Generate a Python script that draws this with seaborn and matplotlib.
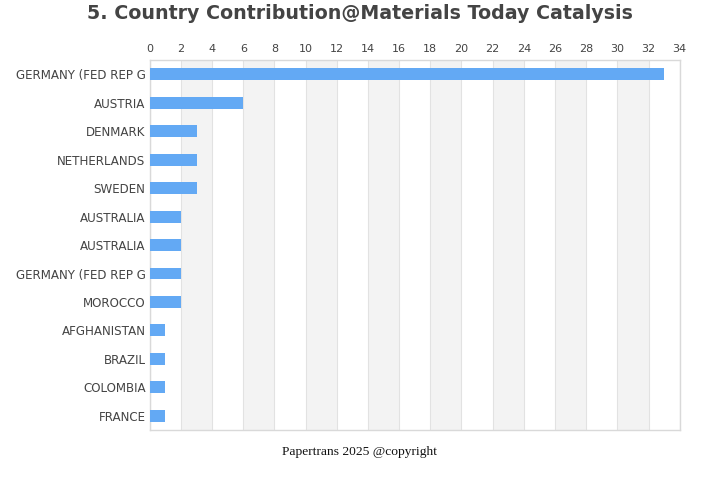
import matplotlib
matplotlib.use("Agg")
import matplotlib.pyplot as plt
import matplotlib.ticker as ticker
import numpy as np
import pandas as pd
import seaborn as sns

countries = [
    "GERMANY (FED REP G", "AUSTRIA", "DENMARK", "NETHERLANDS", "SWEDEN",
    "AUSTRALIA", "AUSTRALIA ", "GERMANY (FED REP G ", "MOROCCO",
    "AFGHANISTAN", "BRAZIL", "COLOMBIA", "FRANCE",
]
counts = [33, 6, 3, 3, 3, 2, 2, 2, 2, 1, 1, 1, 1]
x_ticks = list(range(0, 36, 2))

df = pd.DataFrame({"country": countries, "count": counts})

sns.set_style("white")
fig = plt.figure(figsize=(7.2, 4.8), dpi=100)
ax = fig.add_axes([0.208, 0.104, 0.736, 0.771])

# alternating shaded bands
for lo in x_ticks[1::2]:
    ax.axvspan(lo, lo + 2, color="#f3f3f3", zorder=0, lw=0)

sns.barplot(data=df, x="count", y="country", color="#63a9f4", width=0.42,
            saturation=1, linewidth=0, ax=ax, zorder=3)

ax.set_xlim(0, 34)
ax.set_ylim(len(countries) - 0.5, -0.5)
ax.xaxis.tick_top()
ax.set_xticks(x_ticks)
ax.grid(axis="x", color="#e2e2e2", lw=0.8, zorder=1)
ax.set_axisbelow(True)
ax.tick_params(axis="x", length=0, pad=4, labelsize=8, labelcolor="#444444")
ax.tick_params(axis="y", length=0, pad=3, labelsize=8.6, labelcolor="#444444")
ax.set_yticklabels([c.strip() for c in countries])
ax.set_xlabel("")
ax.set_ylabel("")
for sp in ax.spines.values():
    sp.set_color("#d9d9d9")
    sp.set_linewidth(1)

fig.text(0.5, 0.972, "5. Country Contribution@Materials Today Catalysis",
         ha="center", va="center", fontsize=13.7, fontweight="bold", color="#444444")
fig.text(0.5, 0.058, "Papertrans 2025 @copyright", ha="center", va="center",
         fontsize=9.7, family="Liberation Serif", color="#111111")

fig.savefig("out.png", dpi=100)
